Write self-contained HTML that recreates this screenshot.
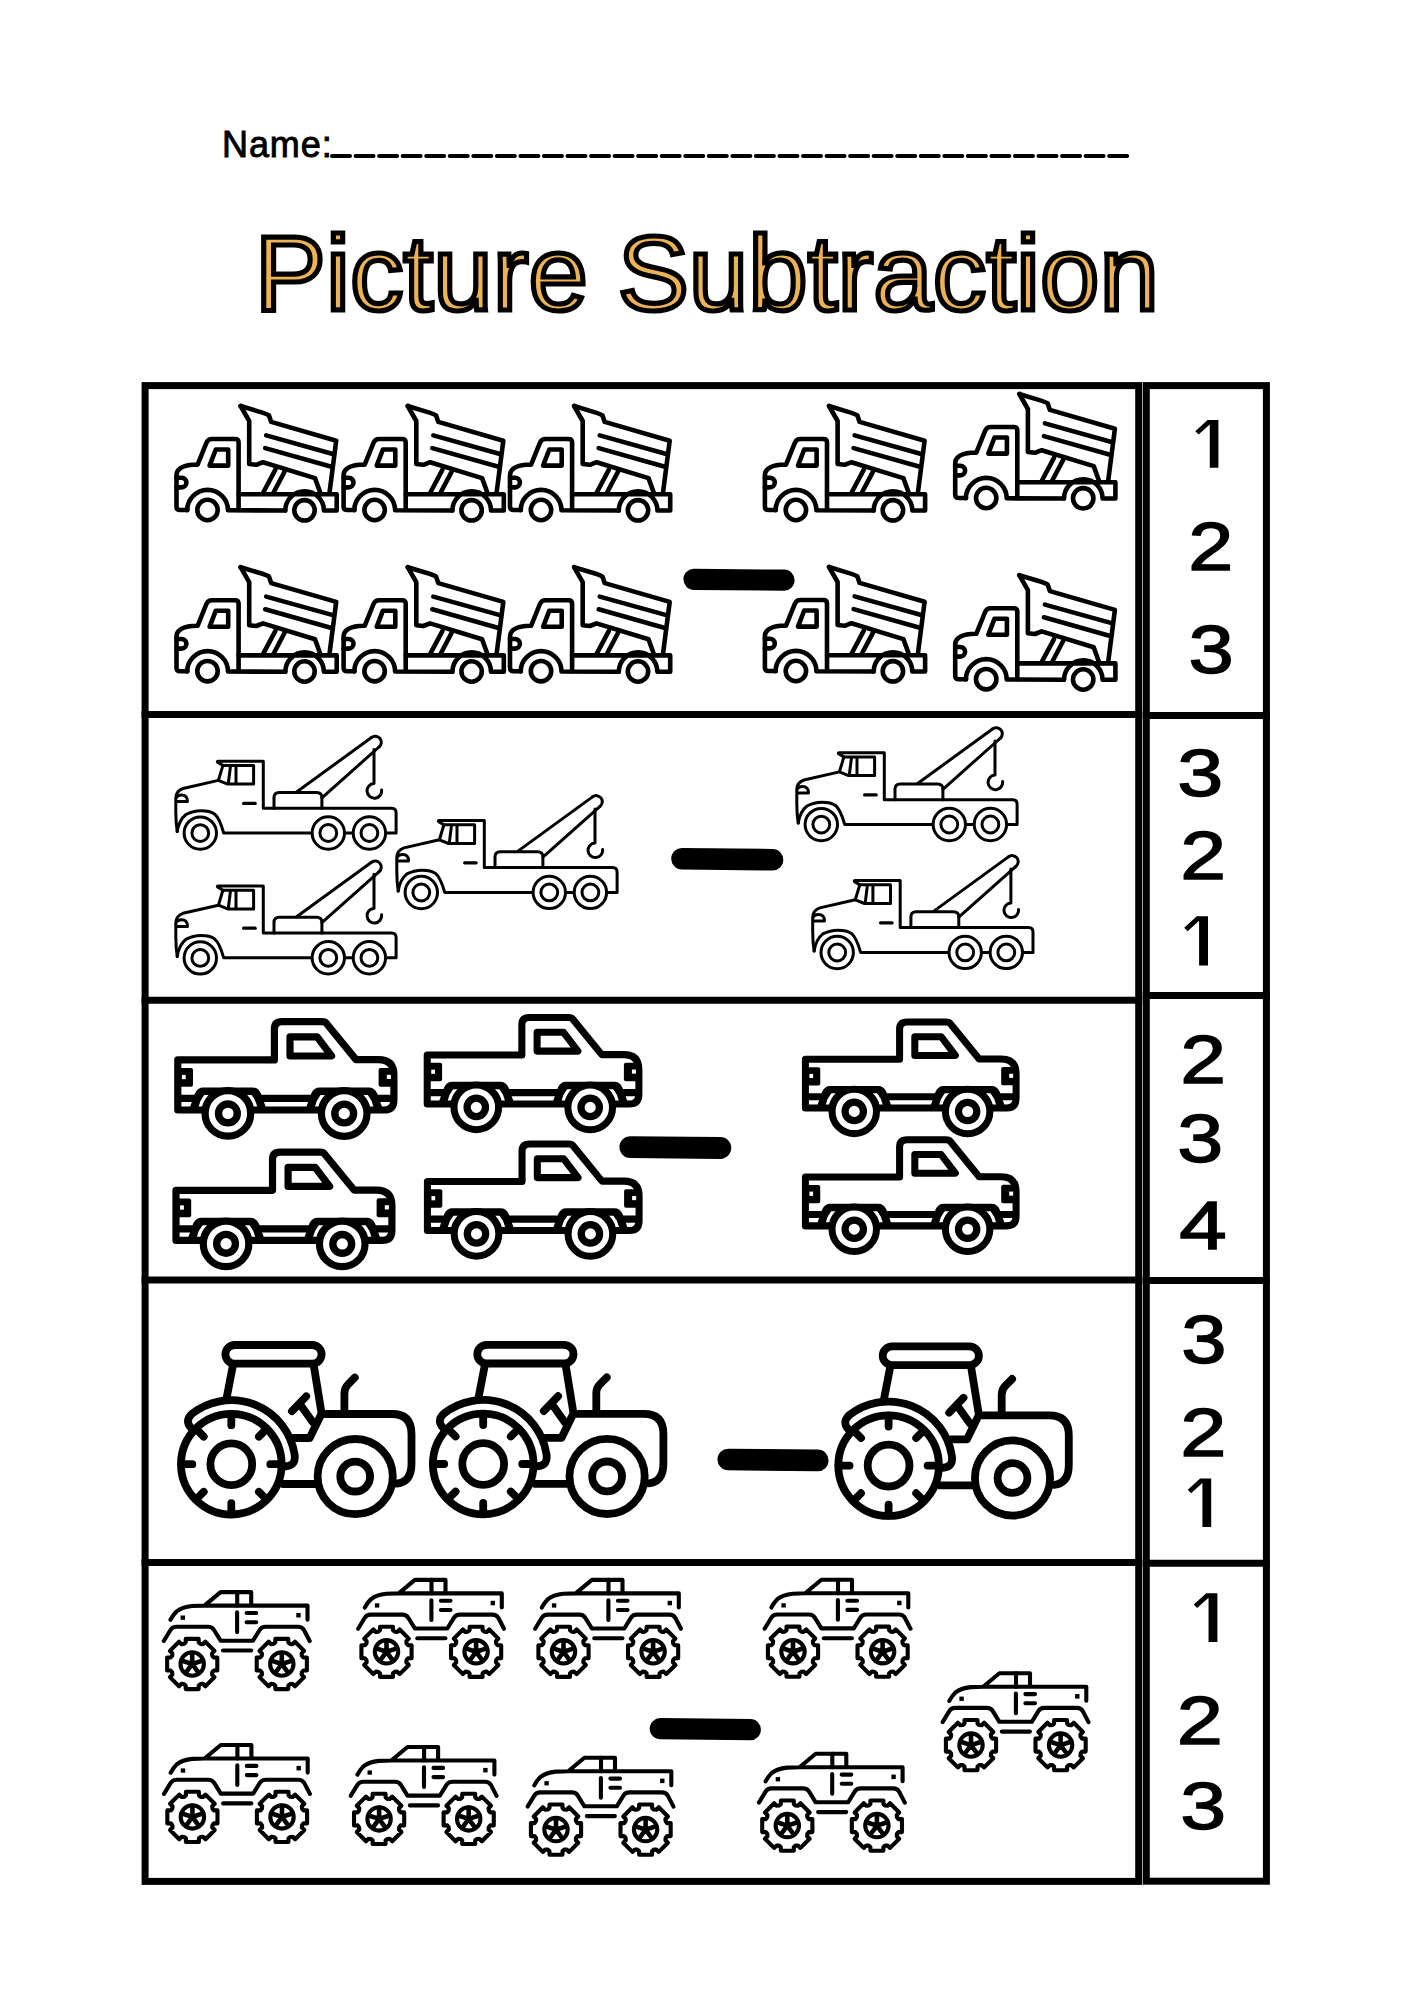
<!DOCTYPE html>
<html><head><meta charset="utf-8"><title>Picture Subtraction</title>
<style>
html,body{margin:0;padding:0;background:#fff;}
body{width:1414px;height:2000px;overflow:hidden;position:relative;font-family:"Liberation Sans",sans-serif;}
svg{position:absolute;left:0;top:0;}
</style></head><body>
<svg width="1414" height="2000" viewBox="0 0 1414 2000">
<g fill="none" stroke="#000" stroke-width="7">
<rect x="145.1" y="385.6" width="993.6" height="1495.8"/>
<line x1="141.6" x2="1142.2" y1="714.5" y2="714.5"/>
<line x1="141.6" x2="1142.2" y1="1000.3" y2="1000.3"/>
<line x1="141.6" x2="1142.2" y1="1280.0" y2="1280.0"/>
<line x1="141.6" x2="1142.2" y1="1562.5" y2="1562.5"/>
<rect x="1146.3" y="385.6" width="120.1" height="1495.6"/>
<line x1="1142.8" x2="1269.9" y1="715.5" y2="715.5"/>
<line x1="1142.8" x2="1269.9" y1="995.5" y2="995.5"/>
<line x1="1142.8" x2="1269.9" y1="1280.5" y2="1280.5"/>
<line x1="1142.8" x2="1269.9" y1="1563.2" y2="1563.2"/>
</g>
<line x1="694.0" y1="579.3" x2="784.0" y2="580.2" stroke="#000" stroke-width="21.2" stroke-linecap="round"/>
<line x1="682.0" y1="858.8" x2="772.5" y2="859.7" stroke="#000" stroke-width="21.6" stroke-linecap="round"/>
<line x1="630.4" y1="1147.1" x2="720.3" y2="1148.0" stroke="#000" stroke-width="21.9" stroke-linecap="round"/>
<line x1="728.3" y1="1459.5" x2="817.7" y2="1460.4" stroke="#000" stroke-width="21.7" stroke-linecap="round"/>
<line x1="660.3" y1="1728.7" x2="750.3" y2="1729.6" stroke="#000" stroke-width="21.2" stroke-linecap="round"/>
<path d="M1207.50,420.10 L1218.40,420.10 L1218.40,467.80 L1209.75,467.80 L1209.75,424.50 L1198.60,434.60 L1195.30,431.20Z" fill="#000"/>
<text transform="translate(1188.25,570.30) scale(1.1818,1)" font-family="Liberation Sans" font-size="68.62" stroke="#000" stroke-width="1.40">2</text>
<text transform="translate(1188.51,673.39) scale(1.1964,1)" font-family="Liberation Sans" font-size="68.03" stroke="#000" stroke-width="1.40">3</text>
<text transform="translate(1177.16,795.70) scale(1.2330,1)" font-family="Liberation Sans" font-size="67.04" stroke="#000" stroke-width="1.40">3</text>
<text transform="translate(1180.28,879.10) scale(1.2162,1)" font-family="Liberation Sans" font-size="67.77" stroke="#000" stroke-width="1.40">2</text>
<path d="M1196.78,916.30 L1208.00,916.30 L1208.00,965.40 L1199.10,965.40 L1199.10,920.83 L1187.62,931.23 L1184.22,927.73Z" fill="#000"/>
<text transform="translate(1180.28,1082.50) scale(1.1960,1)" font-family="Liberation Sans" font-size="68.91" stroke="#000" stroke-width="1.40">2</text>
<text transform="translate(1177.16,1162.29) scale(1.2150,1)" font-family="Liberation Sans" font-size="68.03" stroke="#000" stroke-width="1.40">3</text>
<text transform="translate(1179.23,1249.30) scale(1.2461,1)" font-family="Liberation Sans" font-size="68.60" stroke="#000" stroke-width="1.40">4</text>
<text transform="translate(1181.31,1363.19) scale(1.2014,1)" font-family="Liberation Sans" font-size="67.75" stroke="#000" stroke-width="1.40">3</text>
<text transform="translate(1180.25,1455.50) scale(1.2056,1)" font-family="Liberation Sans" font-size="68.91" stroke="#000" stroke-width="1.40">2</text>
<path d="M1200.14,1478.60 L1211.20,1478.60 L1211.20,1527.00 L1202.42,1527.00 L1202.42,1483.06 L1191.11,1493.31 L1187.76,1489.86Z" fill="#000"/>
<path d="M1206.25,1593.20 L1217.40,1593.20 L1217.40,1642.00 L1208.55,1642.00 L1208.55,1597.70 L1197.14,1608.03 L1193.77,1604.56Z" fill="#000"/>
<text transform="translate(1176.75,1744.40) scale(1.2106,1)" font-family="Liberation Sans" font-size="68.62" stroke="#000" stroke-width="1.40">2</text>
<text transform="translate(1180.37,1828.70) scale(1.2298,1)" font-family="Liberation Sans" font-size="67.04" stroke="#000" stroke-width="1.40">3</text>
<text x="222" y="157" font-family="Liberation Sans" font-size="36" fill="#000" stroke="#000" stroke-width="0.9" letter-spacing="0.9">Name:</text>
<line x1="332" x2="1130" y1="156" y2="156" stroke="#000" stroke-width="4" stroke-linecap="round" stroke-dasharray="18 5.55"/>
<text x="255" y="310" font-family="Liberation Sans" font-size="106" letter-spacing="0.45" fill="#EDB254" stroke="#000" stroke-width="5.2" stroke-linejoin="miter">Picture Subtraction</text>
<defs>
<g id="dump" fill="none" stroke="#000" stroke-width="4.6" stroke-linejoin="round" stroke-linecap="round">
<path d="M187.4,510 L180,510 Q176.5,510 176.5,506.5 L176.5,475.5 Q176.5,466.5 192,464.8 L197.6,464.6 L206.4,442.8 Q208,439 212,439 L235,439 Q238.6,439 238.6,442.6 L238.6,510"/>
<path d="M215.8,449.5 L228.2,449.5 L228.2,465.6 L209.6,465.6 Z"/>
<path d="M176.5,477.8 L181.6,477.8 A4.8,4.8 0 0 1 181.6,487.4 L176.5,487.4"/>
<path d="M187.2,510.3 A20.4,20.4 0 0 1 228,510.3 L285.3,510.5"/>
<path d="M285.3,510.5 A19.3,19.3 0 0 1 323.9,510.5 L336.7,510.5 L336.7,494.2 L238.6,494.2"/>
<path d="M240.6,406 L259,411.6 Q267.5,414 269,415.5 L271.2,421.9 L336.2,440.7 L329.4,493.5"/>
<path d="M240.6,406 L249.2,421 L249.2,464 L256.3,464.8 L263,462.2 L315,478.1 L320.2,492.5"/>
<path d="M266.2,435.4 L332,453.7 M265.2,448.1 L330.6,466.5"/>
<path d="M263,493 L275.4,469.6 M273.3,493 L284.6,471.6"/>
<circle cx="207.5" cy="510" r="10.2" fill="#fff"/>
<circle cx="304.5" cy="510.3" r="10.2" fill="#fff"/>
</g>
<g id="tow" fill="none" stroke="#000" stroke-width="3.0" stroke-linejoin="round" stroke-linecap="round">
<path d="M177.2,831.6 Q175.8,822 175.8,812 L175.8,798 Q176,791 183,788.5 L218.4,780.4 L222.9,765.4 L218,762.5 Q216.5,761.2 218.5,761.2 L263.3,761.2 L263.3,808.2 L391.5,808.2 Q396.1,808.2 396.1,812.8 L396.1,833 L385.3,833"/>
<path d="M177.2,831.6 Q179,820 186,814.5 Q193,810.8 201,810.8 Q210,810.8 214.5,814 Q219.5,818 223.7,833 L312.3,833"/>
<path d="M218.4,780.4 L227.6,784.1 L253.6,784.1 L253.6,765.4 L222.9,765.4"/>
<path d="M230.5,766 L228.3,783.5 M236,766 L236,783.5"/>
<path d="M176.5,801.6 L187.5,801.6 Q187.6,795 181.5,795 Q177.5,795 176.5,797.5"/>
<path d="M243.6,803.4 L255.2,803.4" stroke-width="3.2"/>
<path d="M274,808.2 L274,797.6 Q274,792.4 279.2,792.4 L316.6,792.4 Q321.9,792.4 321.9,797.6 L321.9,808.2"/>
<path d="M296.6,792 L371.5,737.5 M321.9,797.8 L379,747"/>
<path d="M371.5,737.5 A5.3,5.3 0 0 1 379,747"/>
<path d="M374,749.5 L374,783.6 A7.3,7.3 0 1 0 381.6,790"/>
<path d="M344.3,833 L353.4,833"/>
<circle cx="200.3" cy="833.1" r="16.2" fill="#fff"/>
<circle cx="200.3" cy="833.1" r="8.4"/>
<circle cx="328.3" cy="833" r="16.2" fill="#fff"/>
<circle cx="328.3" cy="833" r="8.4"/>
<circle cx="369.4" cy="833" r="16.2" fill="#fff"/>
<circle cx="369.4" cy="833" r="8.4"/>
</g>
<g id="pickup">
<g fill="none" stroke="#000" stroke-width="7.2" stroke-linejoin="round" stroke-linecap="round">
<path d="M274.4,1059.9 L177.8,1059.9 L177.8,1110 L384,1110 Q393.9,1110 393.9,1100 L393.9,1075 Q393.9,1059.6 378.5,1059.6 L356,1059.6 L326.5,1023.5 Q325.2,1021.7 322,1021.7 L282,1021.7 Q274.4,1021.7 274.4,1029 Z"/>
<path d="M290,1036.8 L317,1036.8 L331.6,1056 L290,1056 Z"/>
<path d="M177.8,1098.4 L196.4,1098.4 M259.4,1098.4 L312.7,1098.4 M375.7,1098.4 L393.9,1098.4" stroke-linecap="butt"/>
<path d="M193.3,1108.5 L198.3,1094.6 Q199.9,1091 203.4,1091 L252.4,1091 Q255.9,1091 257.5,1094.6 L262.5,1108.5 Z" fill="#000"/>
<path d="M309.6,1108.5 L314.6,1094.6 Q316.2,1091 319.7,1091 L368.7,1091 Q372.2,1091 373.8,1094.6 L378.8,1108.5 Z" fill="#000"/>
</g>
<clipPath id="pkclip" clipPathUnits="userSpaceOnUse"><rect x="150" y="1094.9" width="260" height="11.5"/></clipPath>
<g fill="none" stroke="#fff" stroke-width="3.4" clip-path="url(#pkclip)">
<circle cx="227.9" cy="1113.4" r="28.3"/>
<circle cx="344.2" cy="1113.5" r="28.3"/>
</g>
<g fill="#000">
<rect x="177.8" y="1068" width="15.2" height="18.8" rx="2"/>
<rect x="378.6" y="1067.9" width="15.3" height="18.8" rx="2"/>
</g>
<g fill="#fff">
<rect x="181.9" y="1074.9" width="3.8" height="4.3"/>
<rect x="386.8" y="1074.8" width="4.1" height="4.2"/>
</g>
<g fill="#fff" stroke="#000" stroke-width="7.2">
<circle cx="227.9" cy="1113.4" r="22.8"/>
<circle cx="344.2" cy="1113.5" r="22.8"/>
</g>
<g fill="none" stroke="#000" stroke-width="7.4">
<circle cx="227.9" cy="1113.4" r="9.4"/>
<circle cx="344.2" cy="1113.5" r="9.4"/>
</g>
</g>
<g id="tractor" fill="none" stroke="#000" stroke-width="7.8" stroke-linejoin="round" stroke-linecap="round">
<rect x="225.4" y="1345" width="96.2" height="18.7" rx="9.35"/>
<path d="M233,1365 L226.8,1397 M313.7,1365 L321.6,1413.5 L309.7,1438 L293.9,1438"/>
<path d="M321.6,1414 L391.9,1414 Q411.5,1414 411.5,1434 L411.5,1463.7 Q411.5,1482 396.8,1483.5"/>
<path d="M344.4,1413.2 L344.4,1393.4 Q344.4,1388 348,1384.5 L354.8,1377.6"/>
<path d="M291.9,1411.2 L306.2,1396.4 M299.8,1404 L312.7,1422.1"/>
<path d="M283,1484 L315,1484"/>
<path d="M194.14,1430.74 Q183,1422 191.9,1413.77 A64,64 0 0 1 294.33,1453.09 Q297,1466 285,1466.5"/>
<circle cx="231.3" cy="1464.2" r="50.3"/>
<circle cx="231.3" cy="1464.2" r="20.9"/>
<path d="M231.3,1414.2 L231.3,1425.2 M266.66,1428.84 L258.88,1436.62 M281.3,1464.2 L270.3,1464.2 M266.66,1499.56 L258.88,1491.78 M231.3,1514.2 L231.3,1503.2 M195.94,1499.56 L203.72,1491.78 M181.3,1464.2 L192.3,1464.2 M195.94,1428.84 L203.72,1436.62"/>
<circle cx="355.2" cy="1476.6" r="37.6" fill="#fff"/>
<circle cx="355.2" cy="1476.6" r="14.9"/>
</g>
<g id="monster" fill="none" stroke="#000" stroke-width="4.1" stroke-linejoin="round" stroke-linecap="round">
<path d="M170.5,1619.8 Q173,1615 176.5,1611.5 Q182,1607 192,1606 L204.4,1605.6 L220.6,1592.1 L251.2,1592.1 L251.2,1605.6 M204.4,1605.6 L307.5,1605.6 L307.5,1619.7"/>
<path d="M237.2,1592.1 L237.2,1605.6"/>
<path d="M163.8,1641 L170.5,1630 Q172.5,1626.8 176.5,1626.8 L208,1626.8 Q212,1626.8 214,1630 L220.6,1640.7 L253,1640.7 L259.6,1630 Q261.6,1626.8 265.6,1626.8 L298,1626.8 Q302,1626.8 304,1630 L309.7,1641"/>
<path d="M223,1650.5 L251.1,1650.5"/>
<path d="M237.1,1612.4 L237.1,1632.1 M246.6,1613 L256.2,1613 M246.6,1622.2 L256.2,1622.2"/>
<path d="M183.9,1643.95 L185.7,1642.46 L185.72,1638.92 L198.68,1638.92 L198.7,1642.46 L200.5,1643.95 L202.83,1644.17 L205.35,1641.68 L214.52,1650.85 L212.03,1653.37 L212.25,1655.7 L213.74,1657.5 L217.28,1657.52 L217.28,1670.48 L213.74,1670.5 L212.25,1672.3 L212.03,1674.63 L214.52,1677.15 L205.35,1686.32 L202.83,1683.83 L200.5,1684.05 L198.7,1685.54 L198.68,1689.08 L185.72,1689.08 L185.7,1685.54 L183.9,1684.05 L181.57,1683.83 L179.05,1686.32 L169.88,1677.15 L172.37,1674.63 L172.15,1672.3 L170.66,1670.5 L167.12,1670.48 L167.12,1657.52 L170.66,1657.5 L172.15,1655.7 L172.37,1653.37 L169.88,1650.85 L179.05,1641.68 L181.57,1644.17Z" fill="#fff"/>
<path d="M273.5,1643.95 L275.3,1642.46 L275.32,1638.92 L288.28,1638.92 L288.3,1642.46 L290.1,1643.95 L292.43,1644.17 L294.95,1641.68 L304.12,1650.85 L301.63,1653.37 L301.85,1655.7 L303.34,1657.5 L306.88,1657.52 L306.88,1670.48 L303.34,1670.5 L301.85,1672.3 L301.63,1674.63 L304.12,1677.15 L294.95,1686.32 L292.43,1683.83 L290.1,1684.05 L288.3,1685.54 L288.28,1689.08 L275.32,1689.08 L275.3,1685.54 L273.5,1684.05 L271.17,1683.83 L268.65,1686.32 L259.48,1677.15 L261.97,1674.63 L261.75,1672.3 L260.26,1670.5 L256.72,1670.48 L256.72,1657.52 L260.26,1657.5 L261.75,1655.7 L261.97,1653.37 L259.48,1650.85 L268.65,1641.68 L271.17,1644.17Z" fill="#fff"/>
<circle cx="192.2" cy="1664" r="11.7"/>
<circle cx="281.8" cy="1664" r="11.7"/>
<path d="M192.2,1664 L192.2,1653 M192.2,1664 L202.66,1660.6 M192.2,1664 L198.67,1672.9 M192.2,1664 L185.73,1672.9 M192.2,1664 L181.74,1660.6 M281.8,1664 L281.8,1653 M281.8,1664 L292.26,1660.6 M281.8,1664 L288.27,1672.9 M281.8,1664 L275.33,1672.9 M281.8,1664 L271.34,1660.6" stroke-width="4.6"/>
<rect x="180.6" y="1615.5" width="4.4" height="4.3" fill="#000" stroke="none"/>
<rect x="296.3" y="1613" width="4.4" height="4.5" fill="#000" stroke="none"/>
</g>
</defs>
<use href="#dump" transform="translate(0,0)"/>
<use href="#dump" transform="translate(167.1,0)"/>
<use href="#dump" transform="translate(333.5,0)"/>
<use href="#dump" transform="translate(0,161.2)"/>
<use href="#dump" transform="translate(167.1,161.2)"/>
<use href="#dump" transform="translate(333.5,161.2)"/>
<use href="#dump" transform="translate(588.4,0)"/>
<use href="#dump" transform="translate(778.7,-12)"/>
<use href="#dump" transform="translate(588.4,161)"/>
<use href="#dump" transform="translate(778.7,169.2)"/>
<use href="#tow" transform="translate(0,0)"/>
<use href="#tow" transform="translate(221,59.4)"/>
<use href="#tow" transform="translate(0,124.8)"/>
<use href="#tow" transform="translate(621,-8.5)"/>
<use href="#tow" transform="translate(636.9,119.4)"/>
<use href="#pickup" transform="translate(174.3,1017.6) scale(1.0000) translate(-174.3,-1017.6)"/>
<use href="#pickup" transform="translate(423.8,1013.5) scale(0.9794) translate(-174.3,-1017.6)"/>
<use href="#pickup" transform="translate(172.5,1148.1) scale(0.9991) translate(-174.3,-1017.6)"/>
<use href="#pickup" transform="translate(424,1140) scale(0.9794) translate(-174.3,-1017.6)"/>
<use href="#pickup" transform="translate(802,1018) scale(0.9749) translate(-174.3,-1017.6)"/>
<use href="#pickup" transform="translate(802,1135.8) scale(0.9749) translate(-174.3,-1017.6)"/>
<use href="#tractor" transform="translate(0,0)"/>
<use href="#tractor" transform="translate(251.9,-0.2)"/>
<use href="#tractor" transform="translate(657.3,1.4)"/>
<use href="#monster" transform="translate(0,0)"/>
<use href="#monster" transform="translate(194.3,-12.2)"/>
<use href="#monster" transform="translate(371.3,-12.2)"/>
<use href="#monster" transform="translate(600.8,-12.3)"/>
<use href="#monster" transform="translate(778.8,81.1)"/>
<use href="#monster" transform="translate(0.2,152.9)"/>
<use href="#monster" transform="translate(186.9,154.9)"/>
<use href="#monster" transform="translate(363.8,165.6)"/>
<use href="#monster" transform="translate(595.1,161.6)"/>
</svg>
</body></html>
